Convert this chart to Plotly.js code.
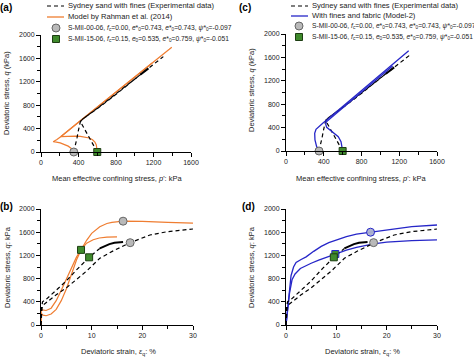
<!DOCTYPE html>
<html><head><meta charset="utf-8">
<script src="https://cdn.plot.ly/plotly-3.0.1.min.js"></script>
<style>body{margin:0;padding:0;background:#fff}#chart{width:474px;height:359px}</style>
</head><body><div id="chart"></div>
<script>
// ---------- Data: stress paths (p', q) ----------
// Experimental (Sydney sand with fines)
const expP_00 = [350,360,372,385,398,410,420,450,520,620,740,860,980,1100,1200,1305];
const expQ_00 = [0,60,150,250,360,460,520,570,650,770,920,1070,1220,1370,1500,1630];
const expP_15 = [600,575,545,512,480,450,420,450,540,650,780,900,1058];
const expQ_15 = [0,75,160,250,340,430,520,570,670,800,960,1110,1320];
const expP_15_tail = [1058,1090,1120,1146];
const expQ_15_tail = [1320,1365,1405,1430];
// Model by Rahman et al. (2014)
const rahP_00 = [350,340,320,290,250,205,165,130,170,210,400,600,800,1000,1200,1395,1368];
const rahQ_00 = [0,30,65,100,130,155,170,175,215,262,507,765,1023,1281,1539,1791,1756];
const rahP_15 = [600,598,590,575,550,515,470,420,370,320,270,230,210,400,600,800,1000,1186];
const rahQ_15 = [0,60,120,170,210,240,258,267,270,268,265,263,262,507,765,1023,1281,1521];
// With fines and fabric (Model-2)
const m2P_00 = [350,338,325,307,304,318,353,395,431,600,800,1000,1200,1300];
const m2Q_00 = [0,40,74,188,302,370,427,484,530,760,1032,1304,1576,1712];
const m2P_15 = [600,596,583,554,501,459,431,421,428,600,800,1000,1130];
const m2Q_15 = [0,70,159,245,313,359,405,456,500,734,1006,1278,1455];
// Start points
const startP = [350, 600];
const startQ = [0, 0];

// ---------- Data: stress-strain (eps_q %, q) ----------
const expE_00 = [0,0.2,0.5,1.5,3,5,7,9,11.6,14.3,17.6,21.5,25,30];
const expS_00 = [0,290,350,420,520,640,780,930,1150,1280,1419,1552,1610,1655];
const expE_15 = [0,0.1,0.3,1,2,3.4,5,7,9.5,11.6];
const expS_15 = [0,290,400,440,520,630,760,950,1167,1320];
const expE_15_tail = [11.6,12.5,13.5,14.5,15.5,16.2];
const expS_15_tail = [1320,1360,1395,1418,1432,1430];
const rahE_00 = [0,0.05,0.4,1,2,3,4,5,6,7,8,9,10,11.6,13,14,16.2,18,20,25,30];
const rahS_00 = [0,200,170,160,190,270,420,620,870,1120,1310,1460,1580,1695,1750,1770,1790,1790,1785,1770,1755];
const rahE_15 = [0,0.05,0.3,1,2,3,4,5,6,7,7.9,9,10.3,11.5,13,15];
const rahS_15 = [0,280,260,250,290,420,600,800,1000,1170,1295,1410,1470,1500,1515,1520];
const m2E_00 = [0,0.3,0.6,1.0,1.5,2,3,4,5.5,7,8.5,10,12,14,16.8,20,25,30];
const m2S_00 = [0,300,600,850,1000,1080,1130,1175,1270,1355,1420,1470,1525,1565,1600,1645,1695,1724];
const m2E_15 = [0,0.3,0.7,1.2,1.8,2.85,4,5,6.5,8,9.8,12,14,17.4,20,25,30];
const m2S_15 = [0,300,550,780,880,975,1030,1065,1120,1170,1224,1290,1340,1400,1430,1455,1466];
// Marker points
const circB_E = [16.2, 17.6], circB_S = [1790, 1419];
const sqB_E = [7.9, 9.5], sqB_S = [1295, 1167];
const circD_E = [16.8, 17.4], circD_S = [1600, 1420];
const sqD_E = [9.8, 9.5], sqD_S = [1224, 1167];

// Legend text
const legendExp = "Sydney sand with fines (Experimental data)";
const legendRah = "Model by Rahman et al. (2014)";
const legendM2 = "With fines and fabric (Model-2)";
const legend00 = "S-MII-00-06, <i>f</i><sub>c</sub>=0.00, <i>e</i>*<sub>0</sub>=0.743, <i>e</i>*<sub>0</sub>=0.743, <i>ψ</i>*<sub>0</sub>=-0.097";
const legend15 = "S-MII-15-06, <i>f</i><sub>c</sub>=0.15, <i>e</i><sub>0</sub>=0.535, <i>e</i>*<sub>0</sub>=0.759, <i>ψ</i>*<sub>0</sub>=-0.051";

// ---------- Styles ----------
const ORANGE = '#ef7d31', BLUE = '#2626c8', GRAYF = '#b9b9b9', GRAYL = '#666', GREENF = '#3f8a2c', GREENL = '#1d3d12';
const FONT = 'Liberation Sans, Arial, sans-serif';
const W = 474, H = 359;
const dash = {color:'#000', width:1.2, dash:'4px,3px'};

function tr(x, y, xa, ya, line) {
  return {x:x, y:y, xaxis:xa, yaxis:ya, type:'scatter', mode:'lines', line:line, cliponaxis:false, showlegend:false, hoverinfo:'skip'};
}
function mk(x, y, xa, ya, symbol, fill, lc, size) {
  return {x:x, y:y, xaxis:xa, yaxis:ya, type:'scatter', mode:'markers', cliponaxis:false, showlegend:false, hoverinfo:'skip',
    marker:{symbol:symbol, size:size||7, color:fill, line:{color:lc, width:1}}};
}

const data = [
  // (a)
  tr(rahP_00, rahQ_00, 'x', 'y', {color:ORANGE, width:1.2}),
  tr(rahP_15, rahQ_15, 'x', 'y', {color:ORANGE, width:1.2}),
  tr(expP_00, expQ_00, 'x', 'y', dash),
  tr(expP_15, expQ_15, 'x', 'y', dash),
  tr(expP_15_tail, expQ_15_tail, 'x', 'y', {color:'#000', width:2}),
  mk([startP[0]], [startQ[0]], 'x', 'y', 'circle', GRAYF, GRAYL, 8),
  mk([startP[1]], [startQ[1]], 'x', 'y', 'square', GREENF, GREENL, 7),
  // (c)
  tr(expP_00, expQ_00, 'x2', 'y2', dash),
  tr(expP_15, expQ_15, 'x2', 'y2', dash),
  tr(expP_15_tail, expQ_15_tail, 'x2', 'y2', {color:'#000', width:2}),
  tr(m2P_00, m2Q_00, 'x2', 'y2', {color:BLUE, width:1.3}),
  tr(m2P_15, m2Q_15, 'x2', 'y2', {color:BLUE, width:1.3}),
  mk([startP[0]], [startQ[0]], 'x2', 'y2', 'circle', GRAYF, GRAYL, 8),
  mk([startP[1]], [startQ[1]], 'x2', 'y2', 'square', GREENF, GREENL, 7),
  // (b)
  tr(rahE_00, rahS_00, 'x3', 'y3', {color:ORANGE, width:1.2}),
  tr(rahE_15, rahS_15, 'x3', 'y3', {color:ORANGE, width:1.2}),
  tr(expE_00, expS_00, 'x3', 'y3', dash),
  tr(expE_15, expS_15, 'x3', 'y3', dash),
  tr(expE_15_tail, expS_15_tail, 'x3', 'y3', {color:'#000', width:2}),
  mk(circB_E, circB_S, 'x3', 'y3', 'circle', GRAYF, GRAYL, 8),
  mk(sqB_E, sqB_S, 'x3', 'y3', 'square', GREENF, GREENL, 7),
  // (d)
  tr(m2E_00, m2S_00, 'x4', 'y4', {color:BLUE, width:1.3}),
  tr(m2E_15, m2S_15, 'x4', 'y4', {color:BLUE, width:1.3}),
  tr(expE_00, expS_00, 'x4', 'y4', dash),
  tr(expE_15, expS_15, 'x4', 'y4', dash),
  tr(expE_15_tail, expS_15_tail, 'x4', 'y4', {color:'#000', width:2}),
  mk(circD_E, circD_S, 'x4', 'y4', 'circle', ['rgba(170,175,205,0.95)', GRAYF], [BLUE, GRAYL], 8),
  mk(sqD_E, sqD_S, 'x4', 'y4', 'square', GREENF, [BLUE, GREENL], 7),
];

function ax(domain, range, dtick, minor, anchor) {
  return {domain:domain, range:range, anchor:anchor, showline:true, linecolor:'#000', linewidth:1,
    ticks:'outside', ticklen:4, tickwidth:1, tickcolor:'#000', tick0:0, dtick:dtick,
    minor:{dtick:minor, ticks:'outside', ticklen:3, tickwidth:1, tickcolor:'#000', showgrid:false},
    showgrid:false, zeroline:false, tickfont:{family:FONT, size:7, color:'#222'}, fixedrange:true};
}
const px = v => v / W, py = v => 1 - v / H;

const layout = {
  width:W, height:H, margin:{l:0, r:0, t:0, b:0}, paper_bgcolor:'#fff', plot_bgcolor:'rgba(0,0,0,0)',
  showlegend:false, font:{family:FONT, size:7, color:'#222'},
  xaxis: ax([px(41), px(191)], [0,1600], 400, 200, 'y'),
  yaxis: ax([py(152), py(35)], [0,2000], 400, 200, 'x'),
  xaxis2: ax([px(286), px(437)], [0,1600], 400, 200, 'y2'),
  yaxis2: ax([py(151), py(34)], [0,2000], 400, 200, 'x2'),
  xaxis3: ax([px(41), px(193)], [0,30], 10, 5, 'y3'),
  yaxis3: ax([py(325), py(209)], [0,2000], 400, 200, 'x3'),
  xaxis4: ax([px(286), px(437)], [0,30], 10, 5, 'y4'),
  yaxis4: ax([py(325), py(209)], [0,2000], 400, 200, 'x4'),
  shapes: [
    {type:'line', xref:'paper', yref:'paper', x0:px(47), x1:px(64), y0:py(6), y1:py(6), line:dash},
    {type:'line', xref:'paper', yref:'paper', x0:px(47), x1:px(64), y0:py(17), y1:py(17), line:{color:ORANGE, width:1.3}},
    {type:'circle', xref:'paper', yref:'paper', x0:px(52), x1:px(60), y0:py(24), y1:py(32), fillcolor:GRAYF, line:{color:GRAYL, width:1}},
    {type:'rect', xref:'paper', yref:'paper', x0:px(52.5), x1:px(59.5), y0:py(35.5), y1:py(42.5), fillcolor:GREENF, line:{color:GREENL, width:1}},
    {type:'line', xref:'paper', yref:'paper', x0:px(291), x1:px(308), y0:py(6), y1:py(6), line:dash},
    {type:'line', xref:'paper', yref:'paper', x0:px(291), x1:px(308), y0:py(16), y1:py(16), line:{color:BLUE, width:1.3}},
    {type:'circle', xref:'paper', yref:'paper', x0:px(295), x1:px(303), y0:py(22), y1:py(30), fillcolor:GRAYF, line:{color:GRAYL, width:1}},
    {type:'rect', xref:'paper', yref:'paper', x0:px(295.5), x1:px(302.5), y0:py(33.5), y1:py(40.5), fillcolor:GREENF, line:{color:GREENL, width:1}},
  ],
  annotations: []
};

function ann(text, x, y, opts) {
  layout.annotations.push(Object.assign({text:text, xref:'paper', yref:'paper', x:px(x), y:py(y), showarrow:false,
    xanchor:'left', yanchor:'middle', font:{family:FONT, size:7, color:'#222'}}, opts||{}));
}
const lf = {font:{family:FONT, size:7.6, color:'#222'}};
const lf2 = {font:{family:FONT, size:6.7, color:'#222'}};
// legends
ann(legendExp, 66, 6, lf);
ann(legendRah, 66, 17, lf);
ann(legend00, 66, 28, lf2);
ann(legend15, 66, 39, lf2);
ann(legendExp, 310, 6, lf);
ann(legendM2, 310, 16, lf);
ann(legend00, 310, 26, lf2);
ann(legend15, 310, 37, lf2);
// panel labels
const lab = {font:{family:FONT, size:10, color:'#000'}};
ann('<b>(a)</b>', -2, 7, lab);
ann('<b>(c)</b>', 237, 8, lab);
ann('<b>(b)</b>', -2, 207, lab);
ann('<b>(d)</b>', 240, 207, lab);
// axis titles
const tf = {family:FONT, size:7.5, color:'#222'};
ann("Mean effective confining stress, <i>p</i>': kPa", 117, 178, {xanchor:'center', font:tf});
ann("Mean effective confining stress, <i>p</i>': kPa", 361, 178, {xanchor:'center', font:tf});
ann("Deviatoric strain, <i>ε</i><sub>q</sub>: %", 118, 352, {xanchor:'center', font:tf});
ann("Deviatoric strain, <i>ε</i><sub>q</sub>: %", 362, 352, {xanchor:'center', font:tf});
ann("Deviatoric stress, <i>q</i> (kPa)", 7, 93, {xanchor:'center', textangle:-90, font:tf});
ann("Deviatoric stress, <i>q</i> (kPa)", 251, 90, {xanchor:'center', textangle:-90, font:tf});
ann("Deviatoric stress, <i>q</i>: kPa", 7, 267, {xanchor:'center', textangle:-90, font:tf});
ann("Deviatoric stress, <i>q</i>: kPa", 251, 267, {xanchor:'center', textangle:-90, font:tf});

Plotly.newPlot('chart', data, layout, {staticPlot:true, displayModeBar:false});
</script></body></html>
